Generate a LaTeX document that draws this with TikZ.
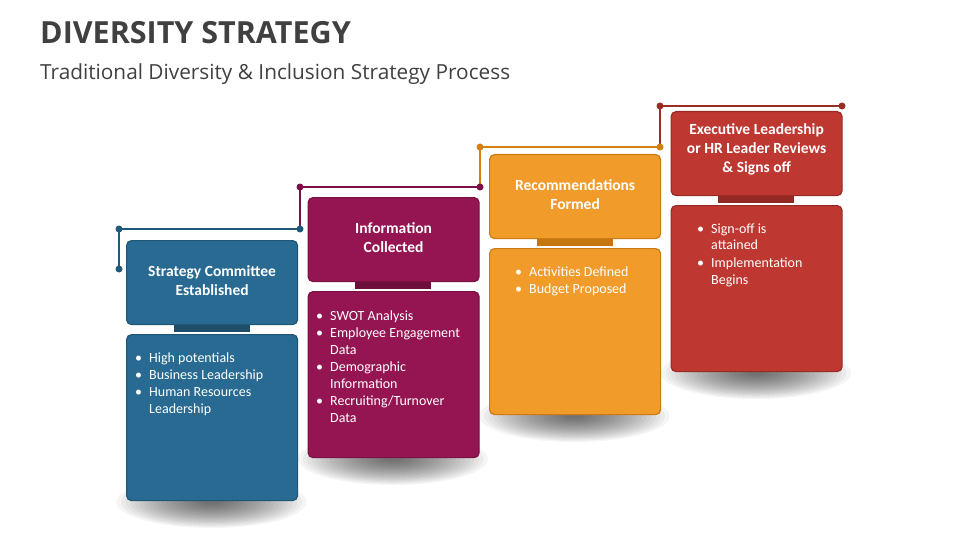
\documentclass[tikz,border=0pt]{standalone}
\usepackage{fontspec}
\setmainfont{Carlito}
\newfontfamily\osans{Open Sans}
\usetikzlibrary{positioning}
\definecolor{bluefill}{HTML}{286A92}
\definecolor{blueedge}{HTML}{1F5577}
\definecolor{bluebar}{HTML}{1F4E6A}
\definecolor{blueline}{HTML}{1F5A7A}
\definecolor{magfill}{HTML}{941552}
\definecolor{magedge}{HTML}{7A1043}
\definecolor{magbar}{HTML}{6D0F3C}
\definecolor{magline}{HTML}{7B1046}
\definecolor{orgfill}{HTML}{F19C2A}
\definecolor{orgedge}{HTML}{CC7A12}
\definecolor{orgbar}{HTML}{C6760F}
\definecolor{orgline}{HTML}{D4820F}
\definecolor{redfill}{HTML}{BE3831}
\definecolor{rededge}{HTML}{9A2A24}
\definecolor{redbar}{HTML}{922A24}
\definecolor{redline}{HTML}{9B2D26}
\definecolor{titlegray}{HTML}{404040}
\newcommand{\bl}{\makebox[14pt][l]{\textbullet}}
\newcommand{\softshadow}[2]{%
  \foreach \k in {0,...,19}{%
    \fill[black, opacity=0.04] (#1,#2) ellipse ({95*(1-\k/21)} and {26*(1-\k/21)});
  }}
\tikzset{
  headbox/.style={draw=#1edge, fill=#1fill, line width=1.2pt, rounded corners=5pt,
    minimum width=171pt, minimum height=84pt, inner sep=0pt, anchor=north west},
  headtext/.style={text=white, align=center, inner sep=0pt,
    font=\fontsize{15.5}{19}\selectfont\bfseries},
  bodybox/.style={draw=#1edge, fill=#1fill, line width=1.2pt, rounded corners=5pt,
    minimum width=171pt, minimum height=166pt, inner sep=0pt, anchor=north west},
  barbox/.style={fill=#1bar, minimum width=76pt, minimum height=10pt, inner sep=0pt, anchor=north},
  bodytext/.style={text=white, inner sep=0pt, anchor=base west,
    font=\fontsize{14}{17}\selectfont},
  conn/.style={draw=#1line, line width=2pt},
  dot/.style={fill=#1line, circle, inner sep=0pt, minimum size=7pt}
}
\begin{document}
\begin{tikzpicture}[x=1pt,y=-1pt]
\useasboundingbox (0,0) rectangle (960,540);
% title
\node[anchor=base west, inner sep=0pt, text=titlegray, font=\osans\bfseries\fontsize{30.5}{36}\selectfont] (title) at (40,44) {DIVERSITY STRATEGY};
\node[anchor=base west, inner sep=0pt, text=titlegray, font=\osans\fontsize{20.8}{25}\selectfont] (subtitle) at (40,80) {Traditional Diversity \& Inclusion Strategy Process};
% shadows
\softshadow{211.5}{502}
\softshadow{393}{459}
\softshadow{574.5}{416}
\softshadow{756}{373}
% connectors
\coordinate (s0) at (119,269);
\coordinate (c0) at (119,229);
\coordinate (e0) at (300,229);
\coordinate (c1) at (300,187);
\coordinate (e1) at (480,187);
\coordinate (c2) at (480,147);
\coordinate (e2) at (660,147);
\coordinate (c3) at (660,106);
\coordinate (e3) at (842,106);
\draw[conn=blue] (s0) -- (c0) -- (e0);
\draw[conn=mag] (e0) -- (c1) -- (e1);
\draw[conn=org] (e1) -- (c2) -- (e2);
\draw[conn=red] (e2) -- (c3) -- (e3);
\node[dot=blue] (ds0) at (s0) {};
\node[dot=blue] (dc0) at (c0) {};
\node[dot=blue] (de0) at (e0) {};
\node[dot=mag] (dc1) at (c1) {};
\node[dot=mag] (de1) at (e1) {};
\node[dot=org] (dc2) at (c2) {};
\node[dot=org] (de2) at (e2) {};
\node[dot=red] (dc3) at (c3) {};
\node[dot=red] (de3) at (e3) {};
% column 1
\node[barbox=blue] (bar1) at (211.5,322) {};
\node[headbox=blue] (h1) at (126,240) {};
\node[headtext] (ht1) at ([yshift=2pt]h1.center) {Strategy Committee\\Established};
\node[bodybox=blue] (b1) at (126,334) {};
\node[bodytext] (t1) at (135,362) {\begin{tabular}[t]{@{}l@{}l@{}}
\bl & High potentials\\
\bl & Business Leadership\\
\bl & Human Resources\\
 & Leadership
\end{tabular}};
% column 2
\node[barbox=mag] (bar2) at (393,279) {};
\node[headbox=mag] (h2) at (307.5,197) {};
\node[headtext] (ht2) at ([yshift=2pt]h2.center) {Information\\Collected};
\node[bodybox=mag] (b2) at (307.5,291) {};
\node[bodytext] (t2) at (316,320) {\begin{tabular}[t]{@{}l@{}l@{}}
\bl & SWOT Analysis\\
\bl & Employee Engagement\\
 & Data\\
\bl & Demographic\\
 & Information\\
\bl & Recruiting/Turnover\\
 & Data
\end{tabular}};
% column 3
\node[barbox=org] (bar3) at (574.5,236) {};
\node[headbox=org] (h3) at (489,154) {};
\node[headtext] (ht3) at ([yshift=2pt]h3.center) {Recommendations\\Formed};
\node[bodybox=org] (b3) at (489,248) {};
\node[bodytext] (t3) at (515,276) {\begin{tabular}[t]{@{}l@{}l@{}}
\bl & Activities Defined\\
\bl & Budget Proposed
\end{tabular}};
% column 4
\node[barbox=red] (bar4) at (756,193) {};
\node[headbox=red] (h4) at (670.5,111) {};
\node[headtext] (ht4) at ([yshift=4pt]h4.center) {Executive Leadership\\or HR Leader Reviews\\\& Signs off};
\node[bodybox=red] (b4) at (670.5,205) {};
\node[bodytext] (t4) at (697,233) {\begin{tabular}[t]{@{}l@{}l@{}}
\bl & Sign-off is\\
 & attained\\
\bl & Implementation\\
 & Begins
\end{tabular}};
\end{tikzpicture}
\end{document}
